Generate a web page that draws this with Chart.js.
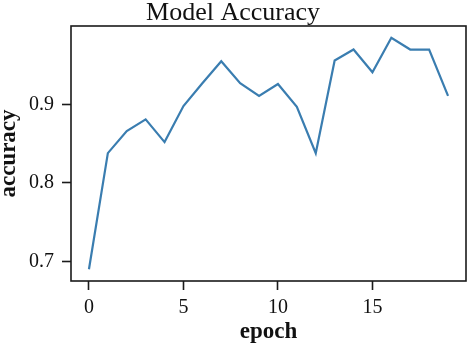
<!DOCTYPE html>
<html lang="en">
<head>
    <meta charset="utf-8">
    <title>Model Accuracy</title>
    <style>
        html, body { margin: 0; padding: 0; background: #fff; }
        #wrap { width: 474px; height: 347px; }
    </style>
</head>
<body>
    <div id="wrap">
        <canvas id="myChart" width="474" height="347"></canvas>
    </div>
    <script src="https://cdn.jsdelivr.net/npm/chart.js"></script>
    <script>
        // data
        const epochs = [0, 1, 2, 3, 4, 5, 6, 7, 8, 9, 10, 11, 12, 13, 14, 15, 16, 17, 18, 19];
        const accuracy = [0.690, 0.838, 0.866, 0.881, 0.852, 0.898, 0.927, 0.955, 0.927, 0.911,
                          0.926, 0.897, 0.838, 0.956, 0.970, 0.941, 0.985, 0.970, 0.970, 0.911];
        const xTicks = [0, 5, 10, 15];
        const yTicks = [0.7, 0.8, 0.9];

        const serif = "'Liberation Serif', 'DejaVu Serif', serif";

        // full box around the plot area
        const frame = {
            id: 'frame',
            afterDraw(chart) {
                const a = chart.chartArea;
                const ctx = chart.ctx;
                ctx.save();
                ctx.strokeStyle = '#1a1a1a';
                ctx.lineWidth = 1.6;
                ctx.strokeRect(a.left, a.top, a.right - a.left, a.bottom - a.top);
                ctx.restore();
            }
        };

        const ctx = document.getElementById('myChart').getContext('2d');
        const myChart = new Chart(ctx, {
            type: 'line',
            data: {
                datasets: [{
                    label: 'accuracy',
                    data: epochs.map((e, i) => ({ x: e, y: accuracy[i] })),
                    borderColor: '#3a7db0',
                    borderWidth: 2.2,
                    pointRadius: 0,
                    tension: 0,
                    fill: false
                }]
            },
            options: {
                responsive: false,
                animation: false,
                layout: { padding: { left: 0, right: 8, top: 0, bottom: 0 } },
                plugins: {
                    legend: { display: false },
                    tooltip: { enabled: false },
                    title: {
                        display: true,
                        text: 'Model Accuracy',
                        color: '#111',
                        font: { family: serif, size: 26, weight: 'normal', lineHeight: 1 },
                        padding: { top: 0, bottom: 0 }
                    }
                },
                scales: {
                    x: {
                        type: 'linear',
                        min: -0.95,
                        max: 19.95,
                        afterBuildTicks: s => { s.ticks = xTicks.map(v => ({ value: v })); },
                        afterFit: s => { s.height = 66; },
                        grid: { display: true, drawOnChartArea: false, drawTicks: true, tickLength: 9, tickColor: '#1a1a1a', tickWidth: 1.6 },
                        border: { display: false },
                        ticks: { color: '#111', font: { family: serif, size: 20 }, padding: 6, maxRotation: 0 },
                        title: {
                            display: true,
                            text: 'epoch',
                            color: '#111',
                            font: { family: serif, size: 23, weight: 'bold', lineHeight: 1.2 },
                            padding: { top: 0, bottom: 1 }
                        }
                    },
                    y: {
                        min: 0.675,
                        max: 1.0,
                        afterBuildTicks: s => { s.ticks = yTicks.map(v => ({ value: v })); },
                        afterFit: s => { s.width = 71; },
                        grid: { display: true, drawOnChartArea: false, drawTicks: true, tickLength: 9, tickColor: '#1a1a1a', tickWidth: 1.6 },
                        border: { display: false },
                        ticks: { color: '#111', font: { family: serif, size: 20 }, padding: 8, callback: v => v.toFixed(1) },
                        title: {
                            display: true,
                            text: 'accuracy',
                            color: '#111',
                            font: { family: serif, size: 23, weight: 'bold', lineHeight: 0.75 },
                            padding: { top: 0, bottom: 0 }
                        }
                    }
                }
            },
            plugins: [frame]
        });
    </script>
</body>
</html>
